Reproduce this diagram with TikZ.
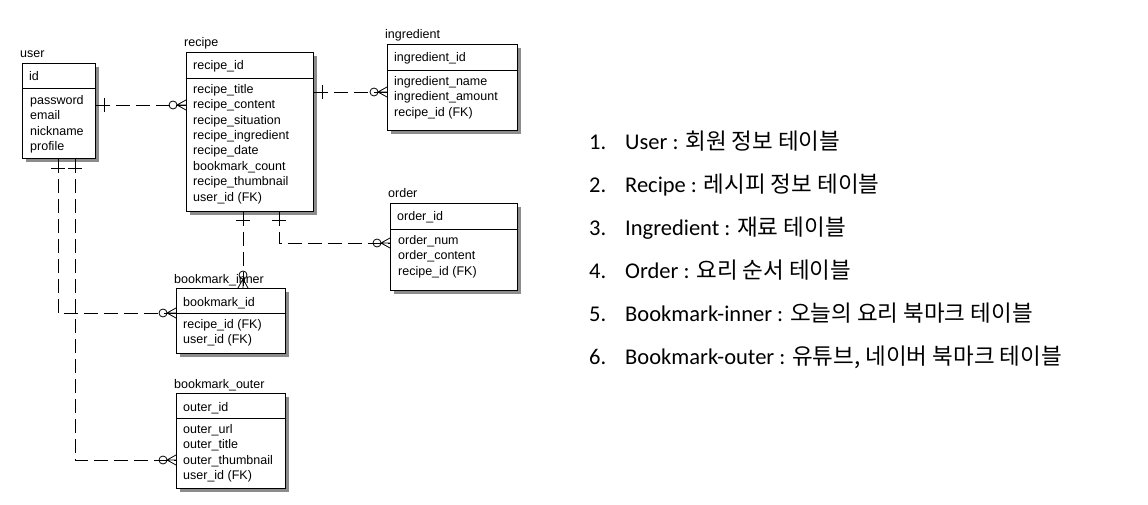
\documentclass[tikz,border=0pt]{standalone}
\usepackage{fontspec}
\setmainfont{Liberation Sans}
\newfontfamily\listfont{Carlito}
\newfontfamily\kr{Noto Sans CJK KR}
\tikzset{
 tbl/.style={draw, line width=0.9pt, fill=white, anchor=north west, inner sep=0pt},
 shad/.style={fill=black!45},
 lbl/.style={anchor=base west, font=\fontsize{12.5}{13}\selectfont, inner sep=0pt},
 attr/.style={anchor=north west, align=left, font=\fontsize{12.5}{15.4}\selectfont, inner sep=0pt},
 rel/.style={line width=0.8pt, dash pattern=on 14pt off 6pt},
 mk/.style={line width=0.8pt},
 item/.style={anchor=base west, font=\fontsize{22.5}{24}\selectfont\listfont, inner sep=0pt}
}
\newcommand{\crowR}[2]{\draw[mk] (#1-9,#2)--(#1,#2-5) (#1-9,#2)--(#1,#2) (#1-9,#2)--(#1,#2+5); \draw[mk] (#1-13,#2) circle (4);}
\newcommand{\crowD}[2]{\draw[mk] (#1,#2-9)--(#1-5,#2) (#1,#2-9)--(#1,#2) (#1,#2-9)--(#1+5,#2); \draw[mk] (#1,#2-13) circle (4);}
\newcommand{\barV}[2]{\draw[mk] (#1,#2-7)--(#1,#2+7);}
\newcommand{\barH}[2]{\draw[mk] (#1-7,#2)--(#1+7,#2);}
\newcommand{\ent}[8]{%
 \fill[shad] (#2+4,#3+4) rectangle (#4+4,#5+4);
 \node[tbl, minimum width=#4-#2, minimum height=#5-#3] (#1) at (#2,#3) {};
 \draw[line width=0.9pt] (#2,#6) -- (#4,#6);
 \node[lbl] at (#2-2,#3-5) {#7};
 \node[lbl] at (#2+7,#3+18) {#8};
}
\begin{document}
\begin{tikzpicture}[x=1pt,y=-1pt]
\useasboundingbox (0,0) rectangle (1148,505);
\fill[white] (0,0) rectangle (1148,505);
\ent{user}{22}{63}{95}{158}{88}{user}{id}
\node[attr] at (30,95) {password\\email\\nickname\\profile};
\ent{recipe}{186}{52}{313}{211}{78}{recipe}{recipe\_id}
\node[attr] at (193,84) {recipe\_title\\recipe\_content\\recipe\_situation\\recipe\_ingredient\\recipe\_date\\bookmark\_count\\recipe\_thumbnail\\user\_id (FK)};
\ent{ingr}{387}{44}{517}{130}{70}{ingredient}{ingredient\_id}
\node[attr] at (394,76) {ingredient\_name\\ingredient\_amount\\recipe\_id (FK)};
\ent{order}{390}{203}{517}{290}{229}{order}{order\_id}
\node[attr] at (398,235) {order\_num\\order\_content\\recipe\_id (FK)};
\ent{binner}{176}{288}{285}{353}{313}{bookmark\_inner}{bookmark\_id}
\node[attr] at (183,319) {recipe\_id (FK)\\user\_id (FK)};
\ent{bouter}{176}{393}{285}{488}{418}{bookmark\_outer}{outer\_id}
\node[attr] at (183,424) {outer\_url\\outer\_title\\outer\_thumbnail\\user\_id (FK)};
\draw[rel] (user.east |- 0,105) -- (recipe.west |- 0,105);
\barV{104}{105}\crowR{186}{105}
\draw[rel] (recipe.east |- 0,92) -- (ingr.west |- 0,92);
\barV{322}{92}\crowR{387}{92}
\draw[rel] (recipe.south -| 243,0) -- (binner.north -| 243,0);
\barH{243}{220}\crowD{243}{288}
\draw[rel] (recipe.south -| 279,0) -- (279,243) -- (order.west |- 0,243);
\barH{279}{220}\crowR{390}{243}
\draw[rel] (user.south -| 58,0) -- (58,313) -- (binner.west |- 0,313);
\barH{58}{168}\crowR{176}{313}
\draw[rel] (user.south -| 75,0) -- (75,460) -- (bouter.west |- 0,460);
\barH{75}{168}\crowR{176}{460}
\foreach \n/\y/\t in {1/150/{User : \kr 회원 정보 테이블},2/193/{Recipe : \kr 레시피 정보 테이블},3/235/{Ingredient : \kr 재료 테이블},4/278/{Order : \kr 요리 순서 테이블},5/321/{Bookmark-inner : \kr 오늘의 요리 북마크 테이블},6/364/{Bookmark-outer : \kr 유튜브, 네이버 북마크 테이블}}{
 \node[item] at (589,\y) {\n.};
 \node[item] at (625,\y) {\t};
}
\end{tikzpicture}
\end{document}
